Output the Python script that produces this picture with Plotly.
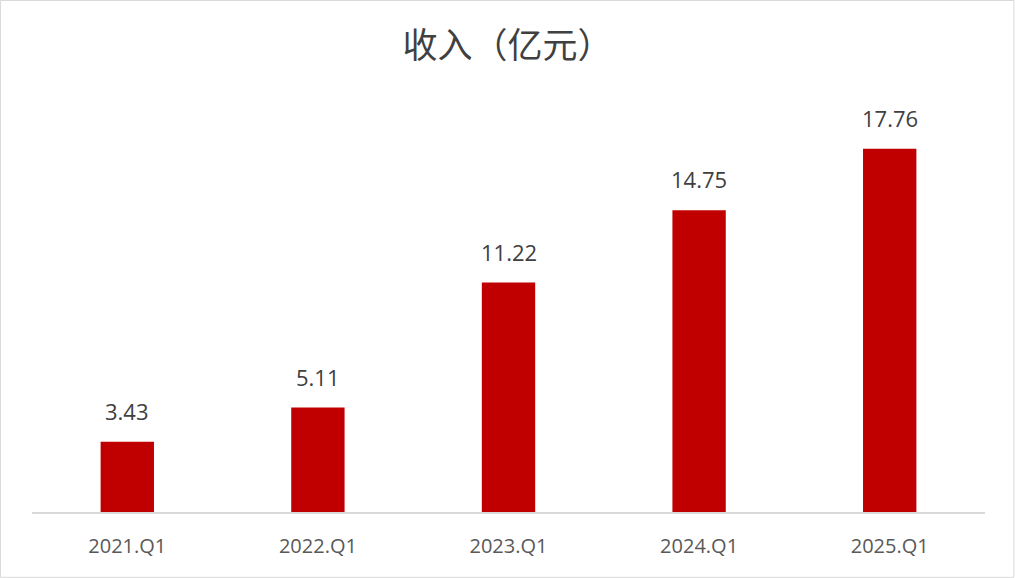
import plotly.graph_objects as go

# Data
quarters = ['2021.Q1', '2022.Q1', '2023.Q1', '2024.Q1', '2025.Q1']
revenue = [3.43, 5.11, 11.22, 14.75, 17.76]

fig = go.Figure()

fig.add_trace(go.Bar(
    x=quarters,
    y=revenue,
    marker=dict(color='#C00000', line=dict(width=0)),
    width=0.28
))

# value labels, sitting a little above each bar like in Excel
for q, v in zip(quarters, revenue):
    fig.add_annotation(x=q, y=v, text=f'{v:.2f}', showarrow=False,
                       yanchor='bottom', yshift=14,
                       font=dict(family='Open Sans, Noto Sans, sans-serif', size=22, color='#404040'))

# outer chart border (Excel style)
fig.add_shape(type='rect', xref='paper', yref='paper',
              x0=-0.0331, x1=1.0304, y0=-0.1597, y1=1.2506,
              line=dict(color='#D9D9D9', width=1))

fig.update_layout(
    title=dict(text='收入（亿元）', x=0.5, xanchor='center', y=0.921, yanchor='middle',
               font=dict(family='Noto Sans CJK SC', size=35, color='#404040')),
    width=1015, height=578,
    margin=dict(l=32, r=30, t=103, b=66),
    plot_bgcolor='white', paper_bgcolor='white',
    showlegend=False,
    xaxis=dict(showline=True, linecolor='#D9D9D9', linewidth=1.5,
               tickfont=dict(family='Open Sans, Noto Sans, sans-serif', size=20, color='#595959'),
               ticks='outside', ticklen=15, tickcolor='rgba(0,0,0,0)'),
    yaxis=dict(range=[0, 20], visible=False, showgrid=False)
)

fig.write_html("out.html", config={'displayModeBar': False},
               post_script="document.body.style.margin='0px';")
